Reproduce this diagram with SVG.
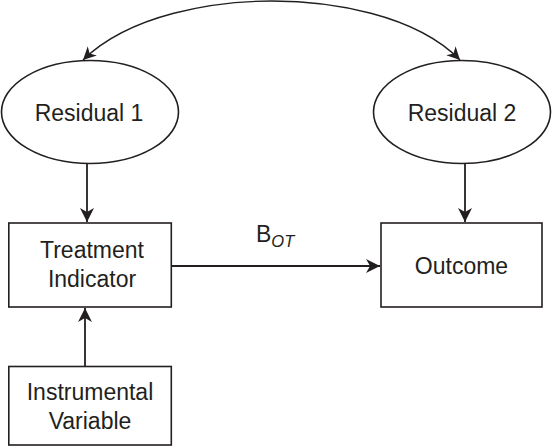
<svg xmlns="http://www.w3.org/2000/svg" width="552" height="447" viewBox="0 0 552 447">
<style>
.n{fill:#fff;stroke:#231f20;stroke-width:1.6}
.t{font-family:"Liberation Sans",Arial,sans-serif;font-size:23px;fill:#231f20;text-anchor:middle}
.c{fill:none;stroke:#231f20;stroke-width:1.8}
</style>
<defs>
<marker id="a" viewBox="0 0 12 12" refX="12" refY="6" markerWidth="13" markerHeight="13" markerUnits="userSpaceOnUse" orient="auto-start-reverse">
<path d="M0,0 L12,6 L0,12 L3.5,6 Z" fill="#231f20"/>
</marker>
<marker id="b" viewBox="0 0 12 12" refX="12" refY="6" markerWidth="14" markerHeight="14" markerUnits="userSpaceOnUse" orient="auto">
<path d="M0,0 L12,6 L0,12 L3.5,6 Z" fill="#231f20"/>
</marker>
</defs>
<g id="residual1">
<ellipse class="n" cx="90" cy="112" rx="88.5" ry="51.5"/>
<text class="t" x="89" y="121">Residual 1</text>
</g>
<g id="residual2">
<ellipse class="n" cx="462" cy="112" rx="88.5" ry="51.5"/>
<text class="t" x="462" y="121">Residual 2</text>
</g>
<g id="treatment">
<rect class="n" x="8.8" y="223" width="162.5" height="84"/>
<text class="t" x="92" y="258">Treatment</text>
<text class="t" x="92" y="287">Indicator</text>
</g>
<g id="outcome">
<rect class="n" x="381" y="223" width="161" height="84"/>
<text class="t" x="461.5" y="274">Outcome</text>
</g>
<g id="instrumental">
<rect class="n" x="8.8" y="366.5" width="162.5" height="78.5"/>
<text class="t" x="90" y="400">Instrumental</text>
<text class="t" x="90" y="429">Variable</text>
</g>
<g id="label">
<text x="256" y="242" style="font-family:'Liberation Sans',Arial,sans-serif;font-size:23px;fill:#231f20">B<tspan dy="5" style="font-size:16.5px;font-style:italic">OT</tspan></text>
</g>
<g id="connectors">
<path class="c" d="M83,60 C130,14 215,1 272,1 C330,1 415,14 460,60" marker-start="url(#a)" marker-end="url(#a)" style="stroke-width:1.3"/>
<line class="c" x1="87" y1="164" x2="87" y2="222" marker-end="url(#b)"/>
<line class="c" x1="465" y1="164" x2="465" y2="222" marker-end="url(#b)"/>
<line class="c" x1="172" y1="266" x2="380" y2="266" marker-end="url(#b)"/>
<line class="c" x1="85" y1="366" x2="85" y2="308" marker-end="url(#b)"/>
</g>
</svg>
